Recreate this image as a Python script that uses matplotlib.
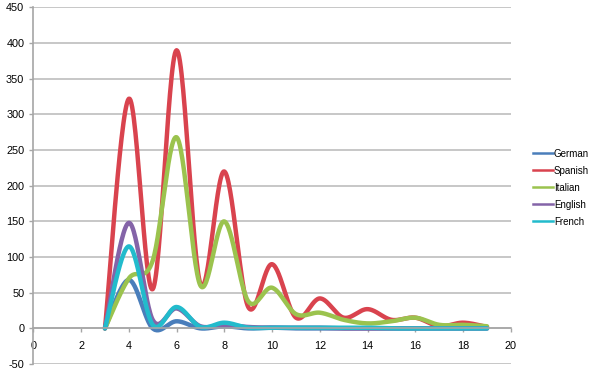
import matplotlib
matplotlib.use('Agg')
import matplotlib.pyplot as plt
import numpy as np

x = [3, 4, 5, 6, 7, 8, 9, 10, 11, 12, 13, 14, 15, 16, 17, 18, 19]
german = [0, 68, 0, 10, 0, 3, 0, 1, 0, 0, 0, 0, 0, 0, 0, 0, 0]
spanish = [0, 322, 55, 390, 62, 220, 30, 90, 15, 42, 15, 27, 12, 15, 3, 8, 2]
italian = [0, 70, 95, 268, 60, 150, 38, 57, 20, 22, 12, 7, 10, 15, 5, 5, 3]
english = [0, 148, 12, 28, 3, 5, 2, 1, 1, 1, 0, 0, 0, 0, 0, 0, 0]
french = [0, 115, 5, 30, 2, 8, 1, 1, 1, 1, 1, 1, 0, 0, 0, 0, 0]

series = [('German', german, '#4A7EBB'),
          ('Spanish', spanish, '#D9434E'),
          ('Italian', italian, '#9BC34E'),
          ('English', english, '#8464A8'),
          ('French', french, '#22BBCC')]


def smooth(xs, ys, n=30):
    # bezier smoothing like Excel's "smoothed line"
    p = np.column_stack([xs, ys]).astype(float)
    p = np.vstack([p[0], p, p[-1]])
    out = []
    t = np.linspace(0, 1, n)[:, None]
    for i in range(1, len(p) - 2):
        p0, p3 = p[i], p[i + 1]
        c1 = p0 + (p[i + 1] - p[i - 1]) / 6
        c2 = p3 - (p[i + 2] - p[i]) / 6
        seg = (1 - t) ** 3 * p0 + 3 * (1 - t) ** 2 * t * c1 + 3 * (1 - t) * t ** 2 * c2 + t ** 3 * p3
        out.append(seg)
    out = np.vstack(out)
    return out[:, 0], out[:, 1]


plt.rcParams['font.family'] = ['Liberation Sans', 'DejaVu Sans']
plt.rcParams['axes.unicode_minus'] = False
fig = plt.figure(figsize=(5.97, 3.73), dpi=100)
ax = fig.add_axes([0.0558, 0.024, 0.800, 0.956])

for name, vals, col in series:
    sx, sy = smooth(x, vals)
    ax.plot(sx, sy, color=col, lw=3.2, solid_capstyle='round', label=name)

ax.set_xlim(0, 20)
ax.set_ylim(-50, 450)
ax.set_xticks(range(0, 21, 2))
ax.set_yticks(range(-50, 451, 50))
ax.grid(axis='y', color='#BDBDBD', lw=1.2)
ax.set_axisbelow(True)

for s in ['top', 'right']:
    ax.spines[s].set_visible(False)
ax.spines['bottom'].set_position(('data', 0))
ax.spines['bottom'].set_color('#A6A6A6')
ax.spines['left'].set_color('#A6A6A6')
ax.spines['bottom'].set_linewidth(1.2)
ax.spines['left'].set_linewidth(1.2)
ax.tick_params(axis='both', colors='#A6A6A6', labelcolor='black', labelsize=7.8, length=3, width=1)
ax.tick_params(axis='x', pad=6)

handles = [plt.Line2D([], [], color=c, lw=1.8) for _, _, c in series]
ax.legend(handles, [s[0] for s in series], loc='center left', bbox_to_anchor=(1.027, 0.494),
          frameon=False, fontsize=7, handlelength=2.1, handletextpad=0.1, labelspacing=0.72)

fig.savefig('out.png', dpi=100)
